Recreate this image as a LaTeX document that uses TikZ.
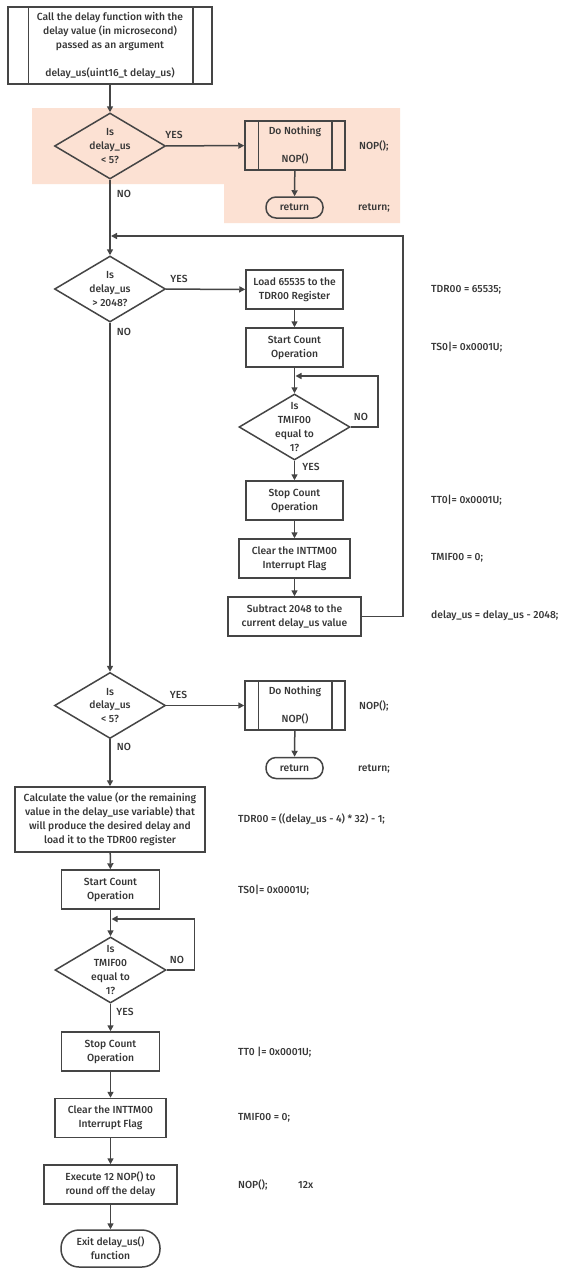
\documentclass[tikz,border=0pt]{standalone}
\usepackage{fontspec}
\setmainfont{Fira Sans}[UprightFont={* Medium}]
\usetikzlibrary{shapes.geometric,arrows.meta}
\definecolor{ln}{HTML}{454545}
\definecolor{tx}{HTML}{363636}
\definecolor{pk}{HTML}{FCE1D3}
\begin{document}
\begin{tikzpicture}[x=1pt,y=-1pt,
  font=\fontsize{10.3}{14}\selectfont, text=tx,
  box/.style={draw=ln, line width=1.5pt, rectangle, inner sep=0pt, align=center},
  dec/.style={draw=ln, line width=1.5pt, diamond, inner sep=0pt, minimum width=111pt, minimum height=66pt},
  dtxt/.style={align=center, font=\fontsize{10.3}{13.7}\selectfont, text=tx},
  term/.style={draw=ln, line width=1.5pt, rectangle, rounded corners=10pt, inner sep=0pt, align=center},
  arr/.style={draw=ln, line width=1.5pt, -{Triangle[length=6pt,width=6pt]}},
  ln/.style={draw=ln, line width=1.5pt},
  lab/.style={inner sep=0pt, text=tx},
  code/.style={inner sep=0pt, anchor=west, text=tx}]
\useasboundingbox (0,0) rectangle (576,1275);
\fill[white] (0,0) rectangle (576,1275);
% highlighted region
\fill[pk] (32,108) -- (400,108) -- (400,223) -- (224,223) -- (224,184) -- (32,184) -- cycle;

% start box
\node[box, minimum width=204pt, minimum height=77pt] (start) at (110,45.5)
  {Call the delay function with the\\delay value (in microsecond)\\passed as an argument\\[14pt]delay\_us(uint16\_t delay\_us)};
\draw[ln] ([xshift=21pt]start.north west) -- ([xshift=21pt]start.south west);
\draw[ln] ([xshift=-20pt]start.north east) -- ([xshift=-20pt]start.south east);

% first check
\node[dec, label={[dtxt]center:{Is\\delay\_us\\< 5?}}] (d1) at (110,146) {};
\node[box, minimum width=100pt, minimum height=49pt] (dn1) at (295,145.5) {Do Nothing\\[14pt]NOP()};
\draw[ln] ([xshift=14pt]dn1.north west) -- ([xshift=14pt]dn1.south west);
\draw[ln] ([xshift=-14pt]dn1.north east) -- ([xshift=-14pt]dn1.south east);
\node[term, minimum width=57pt, minimum height=21pt] (ret1) at (294.5,207.5) {return};
\node[code] (c1) at (359,146) {NOP();};
\node[code] (c2) at (358,208) {return;};
\node[lab] (y1) at (174,135) {YES};
\node[lab] (n1) at (124,194) {NO};

% second check
\node[dec, label={[dtxt]center:{Is\\delay\_us\\> 2048?}}] (d2) at (110,289) {};
\node[box, minimum width=97pt, minimum height=39pt] (load) at (294.5,289.5) {Load 65535 to the\\TDR00 Register};
\node[box, minimum width=97pt, minimum height=39pt] (sc1) at (294.5,347.5) {Start Count\\Operation};
\node[dec, label={[dtxt]center:{Is\\TMIF00\\equal to\\1?}}] (d3) at (294.5,427) {};
\node[box, minimum width=97pt, minimum height=39pt] (st1) at (294.5,500.5) {Stop Count\\Operation};
\node[box, minimum width=111pt, minimum height=39pt] (cl1) at (294.5,558.5) {Clear the INTTM00\\Interrupt Flag};
\node[box, minimum width=133pt, minimum height=39pt] (sub) at (294.5,616.5) {Subtract 2048 to the\\current delay\_us value};
\node[lab] (y2) at (179,279) {YES};
\node[lab] (n2) at (124,332) {NO};
\node[lab] (n3) at (361,417) {NO};
\node[lab] (y3) at (311,467) {YES};
\node[code] (c3) at (431,290) {TDR00 = 65535;};
\node[code] (c4) at (431,347) {TS0|= 0x0001U;};
\node[code] (c5) at (431,500) {TT0|= 0x0001U;};
\node[code] (c6) at (431,558) {TMIF00 = 0;};
\node[code] (c7) at (431,616) {delay\_us = delay\_us - 2048;};

% third check
\node[dec, label={[dtxt]center:{Is\\delay\_us\\< 5?}}] (d4) at (110,705.5) {};
\node[box, minimum width=100pt, minimum height=49pt] (dn2) at (295,705.5) {Do Nothing\\[14pt]NOP()};
\draw[ln] ([xshift=14pt]dn2.north west) -- ([xshift=14pt]dn2.south west);
\draw[ln] ([xshift=-14pt]dn2.north east) -- ([xshift=-14pt]dn2.south east);
\node[term, minimum width=57pt, minimum height=21pt] (ret2) at (294.5,768) {return};
\node[code] (c8) at (359,706) {NOP();};
\node[code] (c9) at (358,769) {return;};
\node[lab] (y4) at (178.5,695) {YES};
\node[lab] (n4) at (124,747) {NO};

% final part
\node[box, minimum width=190pt, minimum height=65pt] (calc) at (110,819.5)
  {Calculate the value (or the remaining\\value in the delay\_use variable) that\\will produce the desired delay and\\load it to the TDR00 register};
\node[box, minimum width=98pt, minimum height=39pt] (sc2) at (110.5,889.5) {Start Count\\Operation};
\node[dec, label={[dtxt]center:{Is\\TMIF00\\equal to\\1?}}] (d5) at (110.5,970) {};
\node[box, minimum width=98pt, minimum height=39pt] (st2) at (110.5,1051.5) {Stop Count\\Operation};
\node[box, minimum width=111pt, minimum height=39pt] (cl2) at (110.5,1118) {Clear the INTTM00\\Interrupt Flag};
\node[box, minimum width=133pt, minimum height=39pt] (exe) at (110.5,1184.5) {Execute 12 NOP() to\\round off the delay};
\node[term, rounded corners=18pt, minimum width=99pt, minimum height=37pt] (exit) at (110.5,1248.5) {Exit delay\_us()\\function};
\node[lab] (n5) at (177,960) {NO};
\node[lab] (y5) at (125,1012) {YES};
\node[code] (c10) at (238,819) {TDR00 = ((delay\_us - 4) * 32) - 1;};
\node[code] (c11) at (238,890) {TS0|= 0x0001U;};
\node[code] (c12) at (238,1052) {TT0 |= 0x0001U;};
\node[code] (c13) at (238,1118) {TMIF00 = 0;};
\node[code] (c14) at (238,1185) {NOP();};
\node[code] (c15) at (298,1185) {12x};

% coordinates for loops
\coordinate (lp1) at (403,236);
\coordinate (lj1) at (111,236);
\coordinate (lp2) at (378,376);
\coordinate (lj2) at (295.5,376);
\coordinate (lp3) at (194.5,919);
\coordinate (lj3) at (111.5,919);

% connectors
\draw[arr] (start) -- (d1);
\draw[arr] (d1) -- (dn1);
\draw[arr] (dn1) -- (ret1);
\draw[arr] (d1.south) -- (d2.north);
\draw[arr] (d2) -- (load);
\draw[arr] (load) -- (sc1);
\draw[arr] (sc1) -- (d3);
\draw[arr] (d3.east) -| (lp2) -- (lj2);
\draw[arr] (d3) -- (st1);
\draw[arr] (st1) -- (cl1);
\draw[arr] (cl1) -- (sub);
\draw[arr] (sub.east) -| (lp1) -- (lj1);
\draw[arr] (d2.south) -- (d4.north);
\draw[arr] (d4) -- (dn2);
\draw[arr] (dn2) -- (ret2);
\draw[arr] (d4) -- (calc);
\draw[arr] (calc) -- (sc2);
\draw[arr] (sc2) -- (d5);
\draw[arr] (d5.east) -| (lp3) -- (lj3);
\draw[arr] (d5) -- (st2);
\draw[arr] (st2) -- (cl2);
\draw[arr] (cl2) -- (exe);
\draw[arr] (exe) -- (exit);
\end{tikzpicture}
\end{document}
